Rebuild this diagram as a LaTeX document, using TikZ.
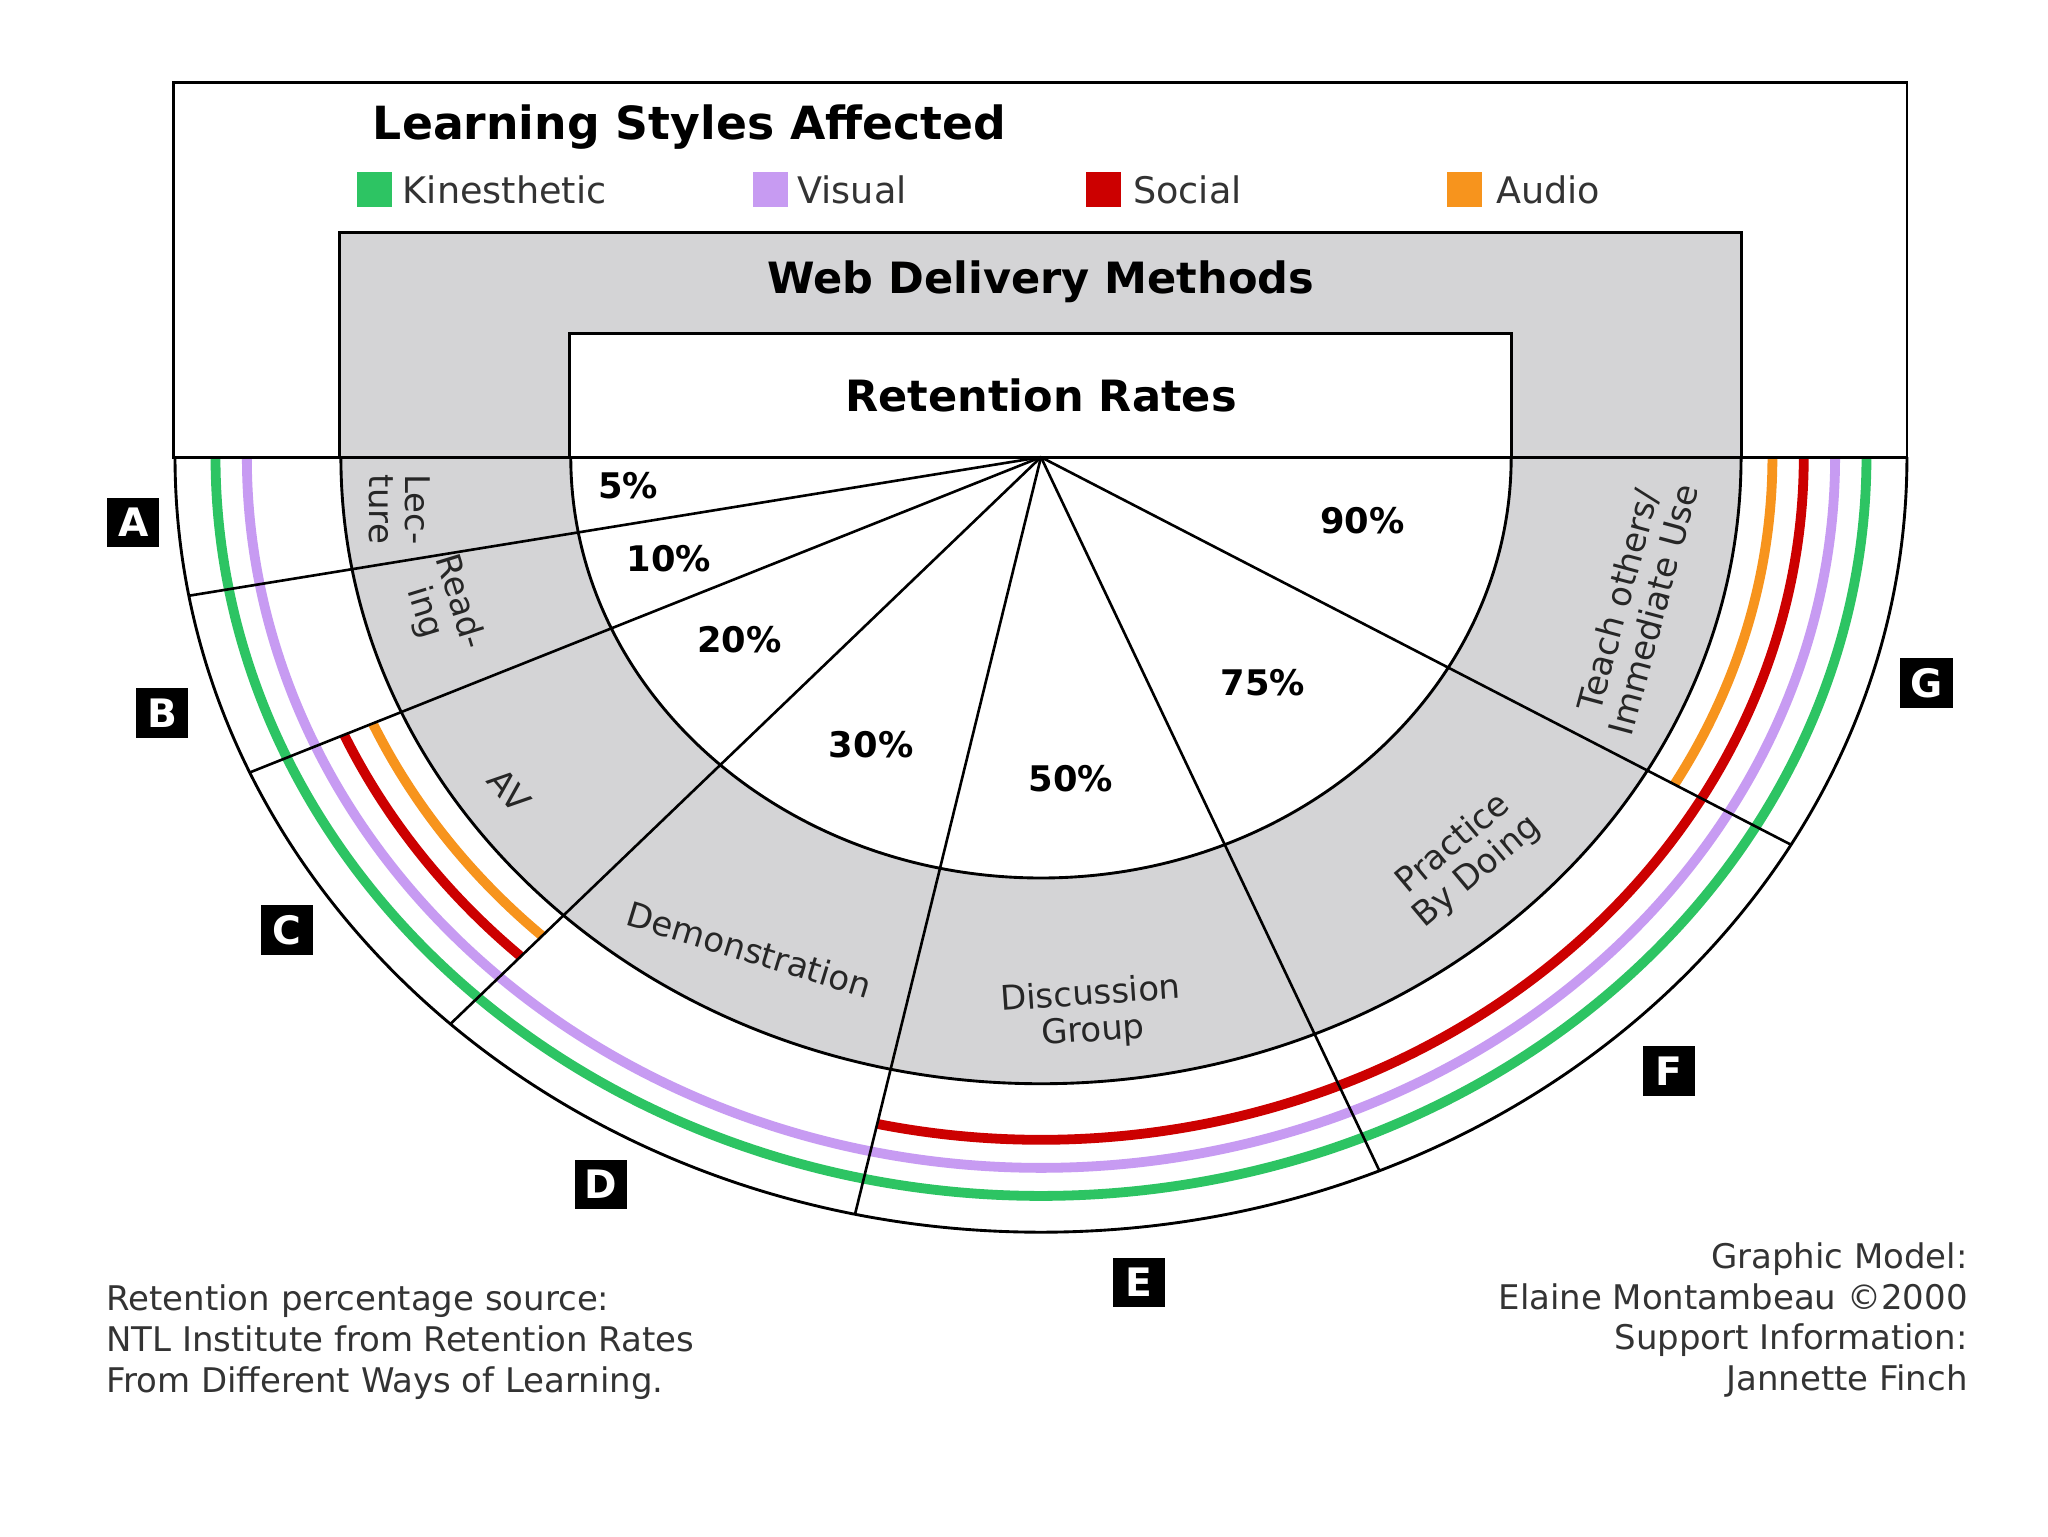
\documentclass[tikz,border=0pt]{standalone}
\usepackage{fontspec}
\setmainfont{DejaVu Sans}
\begin{document}
\begin{tikzpicture}[x=1pt,y=1pt,
  lab/.style={fill=black,text=white,font=\fontsize{30}{30}\selectfont\bfseries,inner sep=3pt,minimum width=40,minimum height=38},
  pct/.style={font=\fontsize{27}{27}\selectfont\bfseries},
  seg/.style={font=\fontsize{26}{28}\selectfont,align=center,text=black!85},
  leg/.style={font=\fontsize{28}{28}\selectfont,text=black!80,anchor=west},
  sq/.style={minimum size=27,inner sep=0pt},
  band/.style={line width=7.5pt}]
\definecolor{kgreen}{HTML}{2DC463}
\definecolor{vpurple}{HTML}{C79BF2}
\definecolor{sred}{HTML}{CC0000}
\definecolor{aorange}{HTML}{F7941D}
\definecolor{gbox}{HTML}{D4D4D6}
\useasboundingbox (0,0) rectangle (1568,-1176);
% top boxes
\draw[line width=2.2pt,fill=white] (133,-350) rectangle (1460,-63);
\draw[line width=2.2pt,fill=gbox] (260,-350) rectangle (1333,-178);
\draw[line width=2.2pt,fill=white] (436,-350) rectangle (1157,-255);
\node[font=\fontsize{35}{35}\selectfont\bfseries] (t1) at (528,-97) {Learning Styles Affected};
\node[font=\fontsize{33}{33}\selectfont\bfseries] (t2) at (797,-216) {Web Delivery Methods};
\node[font=\fontsize{33}{33}\selectfont\bfseries] (t3) at (797,-303) {Retention Rates};
\node[sq,fill=kgreen] (l1) at (287,-145) {}; \node[leg] at (305,-145) {Kinesthetic};
\node[sq,fill=vpurple] (l2) at (590,-145) {}; \node[leg] at (607,-145) {Visual};
\node[sq,fill=sred] (l3) at (845,-145) {}; \node[leg] at (864,-145) {Social};
\node[sq,fill=aorange] (l4) at (1121,-145) {}; \node[leg] at (1142,-145) {Audio};
% semicircle
\begin{scope}[shift={(797,-350)},yscale=0.895]
\fill[white] (-663,0) arc[start angle=180,end angle=360,radius=663] -- cycle;
\fill[gbox] (-536,0) arc[start angle=180,end angle=360,radius=536] -- cycle;
\fill[white] (-360,0) arc[start angle=180,end angle=360,radius=360] -- cycle;
\foreach \a/\b in {180/190.3,190.3/204,204/227,227/257.6,257.6/293,293/330,330/360}{
  \draw[band,kgreen] (\a:632) arc[start angle=\a,end angle=\b,radius=632];
  \draw[band,vpurple] (\a:608) arc[start angle=\a,end angle=\b,radius=608];}
\foreach \a/\b in {204/227,257.6/293,293/330,330/360}{
  \draw[band,sred] (\a:584) arc[start angle=\a,end angle=\b,radius=584];}
\foreach \a/\b in {204/227,330/360}{
  \draw[band,aorange] (\a:560) arc[start angle=\a,end angle=\b,radius=560];}
\draw[line width=2.2pt] (-663,0) arc[start angle=180,end angle=360,radius=663];
\draw[line width=2.2pt] (-536,0) arc[start angle=180,end angle=360,radius=536];
\draw[line width=2.2pt] (-360,0) arc[start angle=180,end angle=360,radius=360];
\coordinate (c) at (0,0);
\foreach \a [count=\i] in {190.3,204,227,257.6,293,330}{
  \coordinate (e\i) at (\a:663);
  \draw[line width=2pt] (c) -- (e\i);}
\end{scope}
\draw[line width=2.2pt] (133,-350) -- (1460,-350);
% percentages
\node[pct] at (481,-372) {5\%};
\node[pct] at (512,-428) {10\%};
\node[pct] at (566,-490) {20\%};
\node[pct] at (667,-570) {30\%};
\node[pct] at (820,-596) {50\%};
\node[pct] at (967,-523) {75\%};
\node[pct] at (1043,-399) {90\%};
% segment labels
\node[seg,rotate=-90] at (306,-390) {Lec-\\ture};
\node[seg,rotate=-73] at (338,-465) {Read-\\ing};
\node[seg,rotate=-50] at (390,-605) {AV};
\node[seg,rotate=-17] at (574,-727) {Demonstration};
\node[seg,rotate=4] at (836,-776) {Discussion\\Group};
\node[seg,rotate=40] at (1122,-657) {Practice\\By Doing};
\node[seg,rotate=75] at (1252,-463) {Teach others/\\Immediate Use};
% letters
\node[lab] at (102,-400) {A};
\node[lab] at (124,-546) {B};
\node[lab] at (220,-712) {C};
\node[lab] at (460,-907) {D};
\node[lab] at (872,-982) {E};
\node[lab] at (1278,-820) {F};
\node[lab] at (1475,-523) {G};
% footers
\node[font=\fontsize{26}{31.5}\selectfont,text=black!80,align=left,anchor=north west] at (78,-980)
 {Retention percentage source:\\NTL Institute from Retention Rates\\From Different Ways of Learning.};
\node[font=\fontsize{26}{31}\selectfont,text=black!80,align=right,anchor=north east] at (1510,-948)
 {Graphic Model:\\Elaine Montambeau \textcopyright2000\\Support Information:\\Jannette Finch};
\end{tikzpicture}
\end{document}
